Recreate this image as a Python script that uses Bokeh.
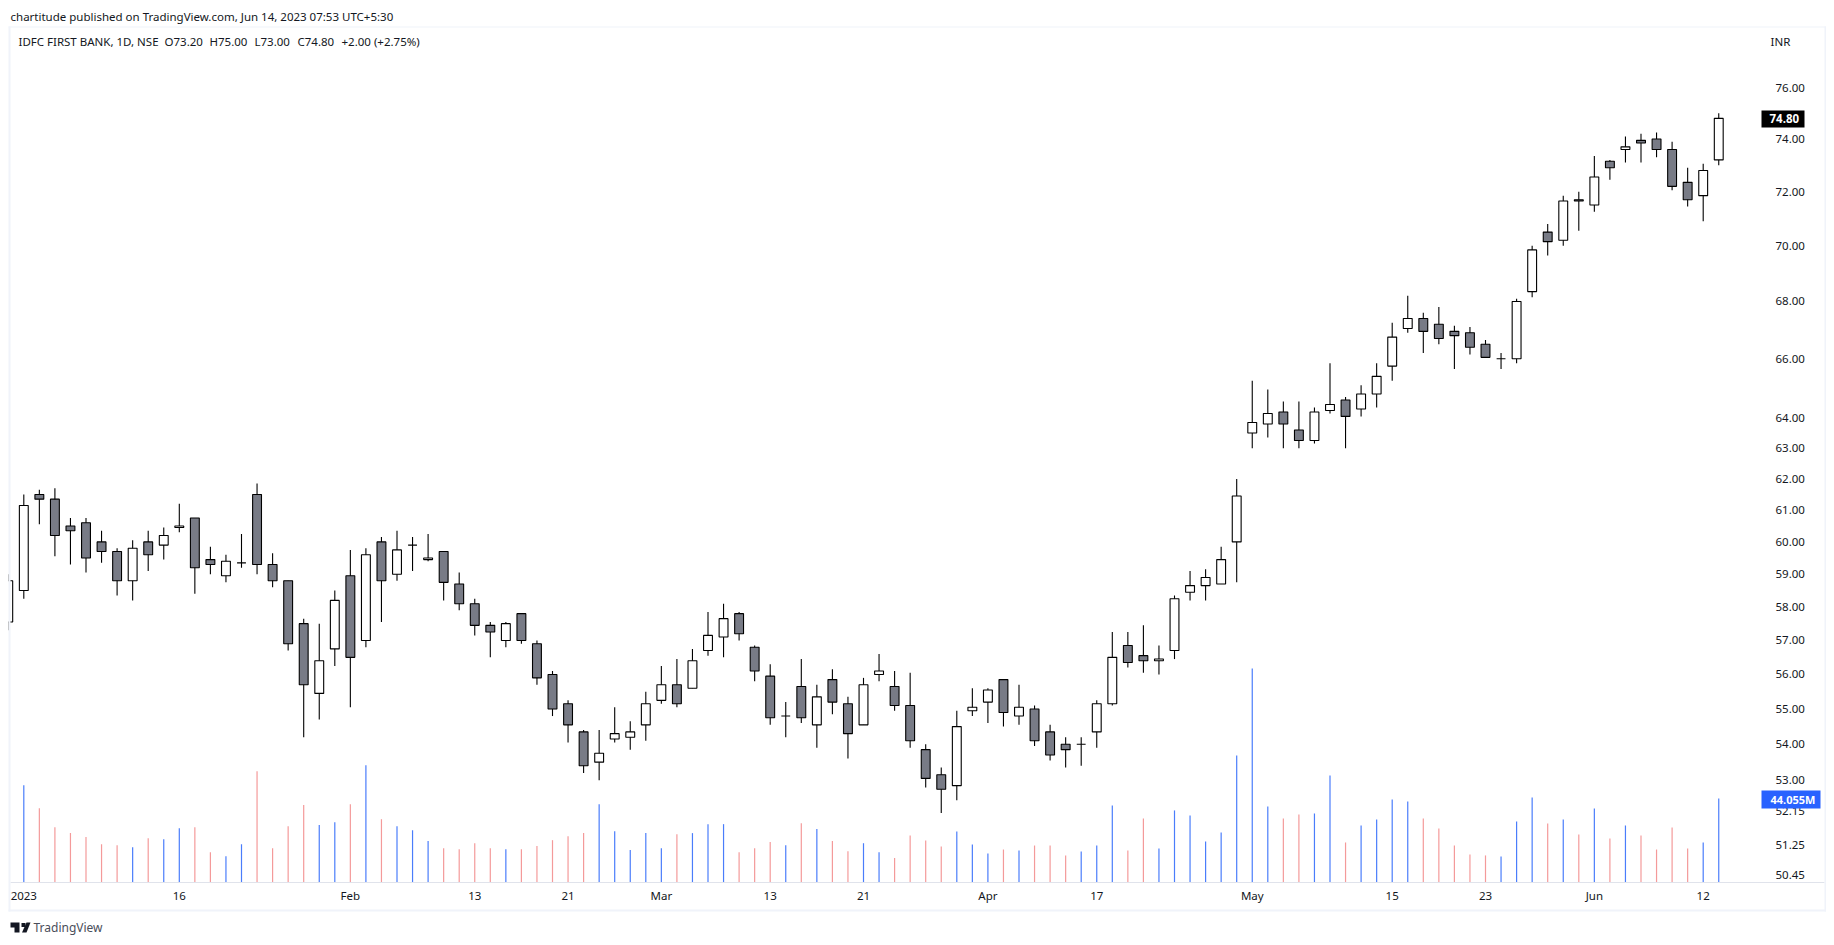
import math
from bokeh.embed import file_html
from bokeh.resources import INLINE
from bokeh.plotting import figure
from bokeh.models import (ColumnDataSource, Range1d, LinearScale, FixedTicker, Label, BoxAnnotation,
                          PolyAnnotation, PrintfTickFormatter)

opens = [57.55,58.5,61.5,61.35,60.5,60.6,60.0,59.7,58.8,60.0,59.9,60.45,60.75,59.45,58.95,59.35,61.5,59.3,58.8,57.5,55.45,56.75,58.95,57.0,60.0,59.0,59.9,59.45,59.7,58.7,
         58.1,57.45,57.0,57.8,56.9,56.0,55.15,54.35,53.5,54.15,54.2,54.55,55.25,55.7,55.6,56.7,57.1,57.8,56.8,55.95,54.8,55.65,54.55,55.85,55.15,54.55,56.0,55.65,55.1,
         53.85,53.15,52.85,54.95,55.2,55.85,54.8,55.0,54.35,54.0,54.0,54.35,55.15,56.85,56.55,56.4,56.7,58.45,58.65,58.7,60.0,
         63.5,63.8,64.2,63.6,63.25,64.25,64.6,64.3,64.8,65.75,67.05,67.4,67.2,66.95,66.9,66.5,66.0,66.0,68.35,70.5,70.2,71.7,71.5,73.15,73.6,73.95,74.0,73.6,72.35,71.85,73.2]
highs = [59.0,61.5,61.65,61.7,60.75,60.75,60.35,59.8,60.05,60.35,60.45,61.2,60.75,59.85,59.6,60.25,61.85,59.65,58.8,57.65,57.5,58.5,59.75,59.8,60.15,60.35,60.15,60.25,59.7,59.05,
         58.25,57.55,57.55,57.8,57.0,56.1,55.25,54.4,54.4,55.05,54.65,55.5,56.25,56.45,56.75,57.85,58.1,57.85,56.85,56.3,55.2,56.45,55.7,56.15,55.35,55.9,56.6,56.1,56.05,
         54.0,53.35,54.95,55.6,55.6,55.85,55.7,55.1,54.55,54.2,54.2,55.25,57.25,57.25,57.45,56.85,58.35,59.1,59.15,59.85,62.0,
         65.25,64.95,64.55,64.55,64.35,65.85,64.7,65.1,65.85,67.25,68.2,67.6,67.8,67.15,67.1,66.65,66.2,68.1,70.0,70.8,71.85,72.0,73.35,73.2,74.1,74.2,74.25,73.9,72.9,73.05,75.0]
lows = [57.3,58.25,60.55,59.55,59.3,59.05,59.35,58.35,58.2,59.1,59.45,60.3,58.4,59.0,58.75,59.2,59.0,58.6,56.7,54.2,54.7,56.25,55.05,56.8,57.55,58.8,59.1,59.4,58.2,57.9,
        57.15,56.5,56.8,56.9,55.7,54.8,54.05,53.2,53.0,54.05,53.85,54.1,55.15,55.05,55.6,56.55,56.5,57.0,55.8,54.55,54.2,54.6,53.9,54.85,53.6,54.55,55.8,54.95,53.9,
        52.8,52.1,52.45,54.8,54.6,54.5,54.55,53.95,53.55,53.35,53.4,53.9,55.1,56.2,56.05,56.0,56.45,58.2,58.2,58.7,58.75,
        63.0,63.35,63.0,63.0,63.15,64.15,63.0,64.05,64.35,65.25,66.9,66.2,66.5,65.65,66.15,66.05,65.65,65.85,68.15,69.65,70.0,70.55,71.25,72.45,73.1,73.1,73.3,72.05,71.45,70.9,73.0]
closes = [58.8,61.15,61.35,60.2,60.35,59.5,59.7,58.8,59.8,59.6,60.2,60.5,59.2,59.3,59.4,59.35,59.3,58.8,56.9,55.7,56.4,58.2,56.5,59.6,58.8,59.75,59.9,59.5,58.75,58.1,
          57.45,57.25,57.5,57.0,55.9,55.0,54.55,53.4,53.75,54.3,54.35,55.15,55.7,55.15,56.4,57.15,57.65,57.2,56.1,54.75,54.8,54.75,55.35,55.2,54.3,55.7,56.1,55.1,54.1,
          53.05,52.75,54.5,55.05,55.55,54.9,55.05,54.1,53.7,53.85,54.0,55.15,56.5,56.35,56.4,56.45,58.25,58.65,58.9,59.45,61.45,
          63.85,64.15,63.8,63.25,64.2,64.45,64.05,64.8,65.4,66.75,67.4,66.95,66.7,66.8,66.4,66.05,66.0,68.0,69.85,70.15,71.65,71.65,72.55,72.9,73.7,73.85,73.6,72.2,71.7,72.8,74.8]
volumes = [0.0,51.0,39.0,29.0,25.9,23.8,20.1,19.6,18.5,23.2,22.7,28.5,29.0,15.9,13.8,20.1,58.4,18.0,29.5,40.6,30.1,31.6,41.1,61.5,33.2,29.5,27.4,21.7,18.0,17.5,20.6,
           18.0,17.5,17.5,19.1,22.2,24.3,25.9,41.1,26.9,17.0,25.9,18.0,25.3,25.9,30.6,30.6,15.9,18.0,21.2,19.6,31.1,28.0,21.7,16.4,20.6,15.9,12.8,24.7,
           22.0,18.9,26.7,19.9,15.2,17.3,16.8,19.4,19.4,14.2,16.3,19.4,40.4,16.8,33.6,17.8,37.8,35.1,21.5,26.2,66.6,112.2,39.9,33.6,35.7,36.2,56.1,
           21.0,29.9,33.0,43.5,42.5,33.6,28.3,19.4,14.7,14.2,13.6,32.0,44.6,30.9,33.0,25.2,38.8,23.1,29.9,24.6,17.3,28.8,17.8,21.0,44.055]
first_bar = -1

price_ticks = [76, 74, 72, 70, 68, 66, 64, 63, 62, 61, 60, 59, 58, 57, 56, 55, 54, 53, 52.15, 51.25, 50.45]
time_tick_bars = [0, 10, 21, 29, 35, 41, 48, 54, 62, 69, 79, 88, 94, 101, 108]
time_tick_labels = ["2023", "16", "Feb", "13", "21", "Mar", "13", "21", "Apr", "17", "May", "15", "23", "Jun", "12"]

assert len(opens) == len(highs) == len(lows) == len(closes) == len(volumes), (len(opens), len(highs), len(lows), len(closes), len(volumes))

FONT = "Noto Sans"
TEXT = "#131722"
BORDER = "#f0f3fa"
W, H = 1826, 937
FL, FR, FB = 10, 1761, 882


# page-pixel calibration of the scales
def bar_at(px):
    return (px - 23.3) / 15.55


def price_at(py):
    return 76 * math.exp(-(py - 87.3) / 1921)


def vol_at(py):
    return (FB - py) * 44.055 / 84


xs = [first_bar + i for i in range(len(opens))]
up = [c >= o for o, c in zip(opens, closes)]
src = ColumnDataSource(dict(
    x=xs, o=opens, h=highs, l=lows, c=closes, v=volumes, zero=[0.0] * len(xs),
    top=[max(o, c) for o, c in zip(opens, closes)],
    bot=[min(o, c) for o, c in zip(opens, closes)],
    fill=["#ffffff" if u else "#787b86" for u in up],
    vcol=["#4a7dfb" if u else "#f49a9a" for u in up],
))

p = figure(width=W, height=H, output_backend="svg", toolbar_location=None, y_axis_type="log",
           y_axis_location="right",
           x_range=Range1d(bar_at(0), bar_at(W)), y_range=Range1d(price_at(H), price_at(0)),
           min_border=0, outline_line_color=None, background_fill_color="#ffffff", border_fill_color="#ffffff")
p.grid.visible = False

p.extra_y_ranges = {"vol": Range1d(vol_at(H), vol_at(0))}
p.extra_y_scales = {"vol": LinearScale()}
p.segment("x", "zero", "x", "v", source=src, line_color="vcol", line_width=1.2, y_range_name="vol")
p.segment("x", "l", "x", "h", source=src, line_color="#000000", line_width=1.1)
p.vbar("x", 0.57, "bot", "top", source=src, fill_color="fill", line_color="#000000", line_width=1.1)

ya = p.yaxis[0]
ya.fixed_location = bar_at(FR)
ya.ticker = FixedTicker(ticks=price_ticks)
ya.formatter = PrintfTickFormatter(format="%.2f")
ya.axis_line_color = None
ya.major_tick_line_color = None
ya.minor_tick_line_color = None
ya.major_label_standoff = 8
ya.major_label_text_font = FONT
ya.major_label_text_font_size = "11.5px"
ya.major_label_text_color = TEXT

xa = p.xaxis[0]
xa.fixed_location = price_at(FB)
xa.bounds = (bar_at(FL), bar_at(1824))
xa.ticker = FixedTicker(ticks=time_tick_bars)
xa.major_label_overrides = dict(zip(time_tick_bars, time_tick_labels))
xa.axis_line_color = "#e0e3eb"
xa.axis_line_width = 1
xa.major_tick_line_color = None
xa.minor_tick_line_color = None
xa.major_tick_out = 0
xa.major_label_standoff = 5
xa.major_label_text_font = FONT
xa.major_label_text_font_size = "11.5px"
xa.major_label_text_color = TEXT


def sy(v):
    return H - v


def page_box(l, t, r, b, color):
    p.add_layout(BoxAnnotation(left=l, right=r, top=sy(t), bottom=sy(b),
                               left_units="screen", right_units="screen", top_units="screen", bottom_units="screen",
                               fill_color=color, fill_alpha=1, line_color=None, level="overlay"))


# masks and pane border
page_box(0, 0, 8, H, "#ffffff")
page_box(8, 26, 1826, 27, BORDER)
page_box(8, 26, 10, 911, BORDER)
page_box(1824, 26, 1826, 911, BORDER)
page_box(8, 909, 1826, 911, BORDER)


def text(t, x, y, size="11.5px", color=TEXT, align="left", style="normal"):
    p.add_layout(Label(x=x, y=sy(y), x_units="screen", y_units="screen", text=t, text_font=FONT,
                       text_font_size=size, text_color=color, text_align=align, text_baseline="middle",
                       text_font_style=style, level="overlay"))


text("chartitude published on TradingView.com, Jun 14, 2023 07:53 UTC+5:30", 10, 16)
text("IDFC FIRST BANK, 1D, NSE", 18, 41)
text("O73.20", 164, 41)
text("H75.00", 209, 41)
text("L73.00", 254, 41)
text("C74.80", 297, 41)
text("+2.00 (+2.75%)", 341, 41)
text("INR", 1780, 41, align="center")
text("TradingView", 33, 927, size="12px", color="#4a4e5a")

# price and volume badges
page_box(1761, 110, 1804, 127, "#000000")
page_box(1761, 790, 1820, 808, "#2962ff")
p.add_layout(Label(x=1769, x_units="screen", y=closes[-1], y_units="data", text=f"{closes[-1]:.2f}",
                   text_font=FONT, text_font_size="11.5px", text_font_style="bold", text_color="#ffffff",
                   text_baseline="middle", level="overlay"))
p.add_layout(Label(x=1770, x_units="screen", y=sy(799), y_units="screen", text=f"{volumes[-1]:.3f}M",
                   text_font=FONT, text_font_size="11px", text_font_style="bold", text_color="#ffffff",
                   text_baseline="middle", level="overlay"))

# TradingView mark
for shape_x, shape_y in [
    ([10, 19, 19, 14, 14, 10], [922, 922, 932, 932, 927, 927]),
    ([21, 25, 25, 21], [922.5, 922.5, 926.5, 926.5]),
    ([26, 30, 26, 21.5], [922, 922, 932, 932]),
]:
    p.add_layout(PolyAnnotation(xs=shape_x, ys=[sy(v) for v in shape_y],
                                xs_units="screen", ys_units="screen", fill_color=TEXT, fill_alpha=1,
                                line_color=None, level="overlay"))

open("out.html", "w").write(file_html(p, INLINE))
